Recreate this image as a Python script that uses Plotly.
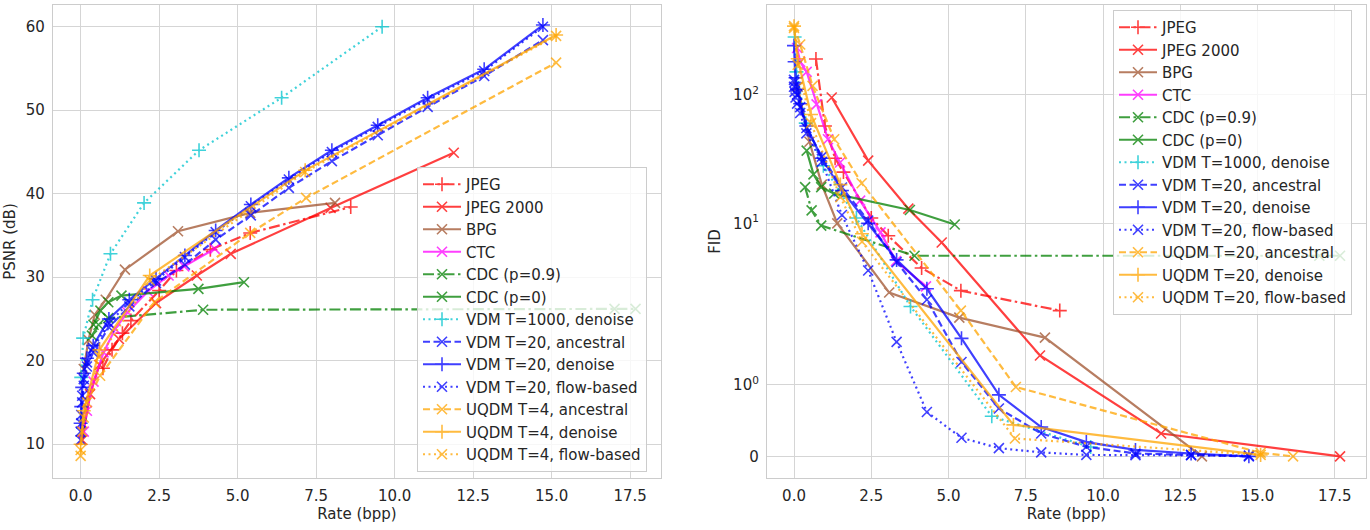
import math
import plotly.graph_objects as go

# ---------------- data: PSNR panel (left) ----------------
jpeg_rate = [0.71, 1.0, 1.33, 1.6, 2.5, 3.05, 4.13, 5.4, 8.6]
jpeg_psnr = [19.1, 21.3, 23.3, 24.8, 28.4, 30.8, 33.3, 35.3, 38.4]
jp2k_rate_psnr = [0.05, 0.3, 0.6, 1.22, 2.4, 3.7, 4.78, 7.96, 11.88]
jp2k_psnr = [10.5, 16.0, 19.5, 22.6, 26.9, 30.2, 32.8, 38.3, 44.9]
bpg_rate_psnr = [0.1, 0.25, 0.45, 0.8, 1.41, 3.1, 5.4, 8.1]
bpg_psnr = [19.0, 22.5, 25.5, 27.3, 30.9, 35.5, 37.7, 38.9]
ctc_rate = [0.1, 0.2, 0.41, 0.73, 1.1, 1.49, 2.14, 2.8, 3.3, 4.27]
ctc_psnr = [11.5, 14.0, 17.5, 21.0, 23.8, 25.8, 28.3, 30.2, 31.3, 33.4]
cdc09_rate = [0.36, 0.57, 0.88, 3.9, 17.0, 17.67]
cdc09_psnr = [23.0, 24.3, 25.1, 26.1, 26.2, 26.2]
cdc0_rate = [0.41, 0.63, 0.88, 1.3, 3.75, 5.2]
cdc0_psnr = [24.3, 26.0, 27.0, 27.8, 28.6, 29.4]
vdm1000_rate = [0.02, 0.08, 0.38, 0.95, 2.02, 3.77, 6.4, 9.6]
vdm1000_psnr = [18.0, 22.7, 27.3, 32.8, 38.9, 45.2, 51.5, 60.0]
vdm_rate = [0.0, 0.02, 0.05, 0.1, 0.2, 0.4, 0.9, 1.55, 2.4, 3.32, 4.3, 5.42, 6.63, 8.0, 9.46, 11.05, 12.85, 14.72]
vdm_anc_psnr = [10.5, 12.5, 15.0, 17.0, 19.3, 21.0, 24.0, 26.5, 29.3, 31.5, 34.5, 37.4, 40.7, 43.9, 47.0, 50.4, 54.1, 58.4]
vdm_den_psnr = [12.5, 14.5, 16.8, 18.5, 20.3, 21.8, 25.0, 27.3, 29.8, 32.6, 35.6, 38.7, 41.9, 45.2, 48.2, 51.5, 54.9, 60.2]
vdm_flow_psnr = [11.5, 13.5, 15.8, 17.8, 19.8, 21.5, 24.5, 27.0, 29.6, 32.4, 35.4, 38.5, 41.7, 45.0, 48.0, 51.3, 54.7, 60.0]
uqdm4_anc_rate = [0.0, 0.05, 0.2, 0.62, 2.35, 5.4, 7.18, 15.14]
uqdm4_anc_psnr = [8.6, 11.5, 15.0, 18.2, 27.0, 35.3, 39.5, 55.7]
uqdm4_rate = [0.0, 0.1, 0.6, 2.2, 7.15, 15.14]
uqdm4_den_psnr = [10.0, 14.0, 21.3, 30.2, 42.8, 59.0]
uqdm4_flow_psnr = [9.3, 13.2, 20.5, 29.6, 42.6, 58.9]

# ---------------- data: FID panel (right) ----------------
jpeg_fid = [189, 57, 32, 25, 11, 8.0, 4.5, 3.0, 2.1]
jp2k_rate_fid = [1.22, 2.4, 3.7, 4.78, 7.96, 11.88, 17.67]
jp2k_fid = [95, 30.7, 13.0, 7.1, 1.41, 0.32, 0.0]
bpg_rate_fid = [0.12, 0.5, 0.9, 1.4, 3.08, 5.35, 8.12, 13.2]
bpg_fid = [115, 43, 20, 10, 2.9, 1.94, 1.66, 0.0]
ctc_fid = [230, 180, 150, 84, 45, 29.7, 15, 8.5, 5.1, 3.24]
cdc09_fid = [19.1, 12.6, 9.6, 5.6, 5.6, 5.6]
cdc0_fid = [36.7, 24, 19.1, 17, 12.7, 9.8]
vdm1000_fid = [280, 150, 60, 28, 11, 2.26, 0.56, 0.13]
vdm_anc_fid = [130, 125, 115, 100, 80, 55, 33, 19, 10.5, 5.0, 2.55, 1.32, 0.67, 0.32, 0.134, 0.04, 0.02, 0.0]
vdm_den_fid = [240, 180, 135, 110, 85, 57, 32, 18, 10, 5.2, 3.1, 1.65, 0.86, 0.41, 0.2, 0.09, 0.04, 0.0]
vdm_flow_fid = [115, 105, 95, 85, 72, 50, 30, 11.6, 4.3, 1.6, 0.62, 0.26, 0.115, 0.055, 0.02, 0.018, 0.018, 0.01]
uqdm20_anc_rate = [0.0, 0.2, 0.6, 1.3, 2.19, 5.4, 7.18, 15.1, 16.15]
uqdm20_anc_fid = [340, 245, 117, 45, 20.5, 2.1, 0.97, 0.05, 0.0]
uqdm20_den_rate = [0.0, 0.12, 0.55, 1.5, 2.2, 7.1, 15.1]
uqdm20_den_fid = [340, 190, 70, 20, 8.3, 0.44, 0.02]
uqdm20_flow_rate = [0.0, 0.12, 0.55, 1.5, 2.2, 7.15, 15.1]
uqdm20_flow_fid = [330, 170, 60, 16, 7.2, 0.25, 0.02]

x_ticks = [0, 2.5, 5, 7.5, 10, 12.5, 15, 17.5]
x_tick_labels = ["0.0", "2.5", "5.0", "7.5", "10.0", "12.5", "15.0", "17.5"]
psnr_ticks = [10, 20, 30, 40, 50, 60]
fid_ticks = [0, 1, 10, 100]
fid_tick_labels = ["0", "10<sup>0</sup>", "10<sup>1</sup>", "10<sup>2</sup>"]

# symmetric-log axis mapping (linthresh=2, linscale=1, base 10)
LINTHRESH = 2.0
LINSCALE_ADJ = 1.0 / (1.0 - 1.0 / 10.0)


def symlog(v):
    a = abs(v)
    if a <= LINTHRESH:
        r = a / LINTHRESH * LINSCALE_ADJ
    else:
        r = LINSCALE_ADJ + math.log10(a / LINTHRESH)
    return r if v >= 0 else -r


# ---------------- styles ----------------
RED = "rgb(255,0,0)"
BROWN = "rgb(160,82,45)"
MAGENTA = "rgb(255,0,255)"
GREEN = "rgb(0,128,0)"
CYAN = "rgb(0,196,206)"
BLUE = "rgb(0,0,255)"
ORANGE = "rgb(255,165,0)"

DASH = "7px,3.5px"
DASHDOT = "11px,3.5px,2.5px,3.5px"
DOT = "2px,3.5px"

FONT = "DejaVu Sans, Liberation Sans, sans-serif"
TXT = "#262626"
FS = 15

fig = go.Figure()


def add(x, y, name, color, dash, sym, panel, transform=False):
    yy = [symlog(v) for v in y] if transform else y
    symbol = "x-thin" if sym == "x" else "cross-thin"
    fig.add_trace(go.Scatter(
        x=x, y=yy, name=name, mode="lines+markers",
        line=dict(color=color, width=2.2, dash=dash),
        marker=dict(symbol=symbol, size=10, color=color,
                    line=dict(color=color, width=1.6)),
        opacity=0.75,
        customdata=y,
        hovertemplate="%{x}, %{customdata}<extra>" + name + "</extra>",
        xaxis="x" if panel == 1 else "x2",
        yaxis="y" if panel == 1 else "y2",
        legend="legend" if panel == 1 else "legend2",
    ))


# left panel
add(jpeg_rate, jpeg_psnr, "JPEG", RED, DASHDOT, "+", 1)
add(jp2k_rate_psnr, jp2k_psnr, "JPEG 2000", RED, "solid", "x", 1)
add(bpg_rate_psnr, bpg_psnr, "BPG", BROWN, "solid", "x", 1)
add(ctc_rate, ctc_psnr, "CTC", MAGENTA, "solid", "x", 1)
add(cdc09_rate, cdc09_psnr, "CDC (p=0.9)", GREEN, DASHDOT, "x", 1)
add(cdc0_rate, cdc0_psnr, "CDC (p=0)", GREEN, "solid", "x", 1)
add(vdm1000_rate, vdm1000_psnr, "VDM T=1000, denoise", CYAN, DOT, "+", 1)
add(vdm_rate, vdm_anc_psnr, "VDM T=20, ancestral", BLUE, DASH, "x", 1)
add(vdm_rate, vdm_den_psnr, "VDM T=20, denoise", BLUE, "solid", "+", 1)
add(vdm_rate, vdm_flow_psnr, "VDM T=20, flow-based", BLUE, DOT, "x", 1)
add(uqdm4_anc_rate, uqdm4_anc_psnr, "UQDM T=4, ancestral", ORANGE, DASH, "x", 1)
add(uqdm4_rate, uqdm4_den_psnr, "UQDM T=4, denoise", ORANGE, "solid", "+", 1)
add(uqdm4_rate, uqdm4_flow_psnr, "UQDM T=4, flow-based", ORANGE, DOT, "x", 1)

# right panel
add(jpeg_rate, jpeg_fid, "JPEG", RED, DASHDOT, "+", 2, True)
add(jp2k_rate_fid, jp2k_fid, "JPEG 2000", RED, "solid", "x", 2, True)
add(bpg_rate_fid, bpg_fid, "BPG", BROWN, "solid", "x", 2, True)
add(ctc_rate, ctc_fid, "CTC", MAGENTA, "solid", "x", 2, True)
add(cdc09_rate, cdc09_fid, "CDC (p=0.9)", GREEN, DASHDOT, "x", 2, True)
add(cdc0_rate, cdc0_fid, "CDC (p=0)", GREEN, "solid", "x", 2, True)
add(vdm1000_rate, vdm1000_fid, "VDM T=1000, denoise", CYAN, DOT, "+", 2, True)
add(vdm_rate, vdm_anc_fid, "VDM T=20, ancestral", BLUE, DASH, "x", 2, True)
add(vdm_rate, vdm_den_fid, "VDM T=20, denoise", BLUE, "solid", "+", 2, True)
add(vdm_rate, vdm_flow_fid, "VDM T=20, flow-based", BLUE, DOT, "x", 2, True)
add(uqdm20_anc_rate, uqdm20_anc_fid, "UQDM T=20, ancestral", ORANGE, DASH, "x", 2, True)
add(uqdm20_den_rate, uqdm20_den_fid, "UQDM T=20, denoise", ORANGE, "solid", "+", 2, True)
add(uqdm20_flow_rate, uqdm20_flow_fid, "UQDM T=20, flow-based", ORANGE, DOT, "x", 2, True)

W, H = 1370, 530
axis_common = dict(
    showgrid=True, gridcolor="#d5d5d5", gridwidth=1.2,
    showline=True, linecolor="#cccccc", linewidth=1.2, mirror=True,
    zeroline=False, ticks="", automargin=False,
    tickfont=dict(family=FONT, size=FS, color=TXT),
    title_font=dict(family=FONT, size=FS, color=TXT),
)
ydom = [52 / H, 525 / H]

legend_common = dict(
    bgcolor="rgba(255,255,255,0.8)", bordercolor="#cccccc", borderwidth=1,
    font=dict(family=FONT, size=FS, color=TXT),
    xanchor="left", yanchor="top", tracegroupgap=0,
    itemwidth=38,
)

fig.update_layout(
    width=W, height=H,
    margin=dict(l=0, r=0, t=0, b=0, autoexpand=False),
    paper_bgcolor="white", plot_bgcolor="white",
    font=dict(family=FONT, color=TXT),
    xaxis=dict(domain=[53 / W, 661 / W], range=[-0.88, 18.48],
               tickvals=x_ticks, ticktext=x_tick_labels,
               title=dict(text="Rate (bpp)", standoff=2), anchor="y",
               ticklabelstandoff=4, **axis_common),
    yaxis=dict(domain=ydom, range=[5.95, 62.6], tickvals=psnr_ticks,
               title=dict(text="PSNR (dB)", standoff=6), anchor="x",
               ticklabelstandoff=4, **axis_common),
    xaxis2=dict(domain=[767 / W, 1366 / W], range=[-0.874, 18.51],
                tickvals=x_ticks, ticktext=x_tick_labels,
                title=dict(text="Rate (bpp)", standoff=2), anchor="y2",
                ticklabelstandoff=4, **axis_common),
    yaxis2=dict(domain=ydom, range=[-0.168, 3.506],
                tickvals=[symlog(v) for v in fid_ticks], ticktext=fid_tick_labels,
                title=dict(text="FID", standoff=8), anchor="x2",
                ticklabelstandoff=4, **axis_common),
    legend=dict(x=417 / W, y=1 - 167 / H, **legend_common),
    legend2=dict(x=1113 / W, y=1 - 10 / H, **legend_common),
    showlegend=True,
)

fig.write_html(
    "out.html",
    config={"displayModeBar": False},
    post_script="document.body.style.margin='0px';document.body.style.overflow='hidden';",
)
